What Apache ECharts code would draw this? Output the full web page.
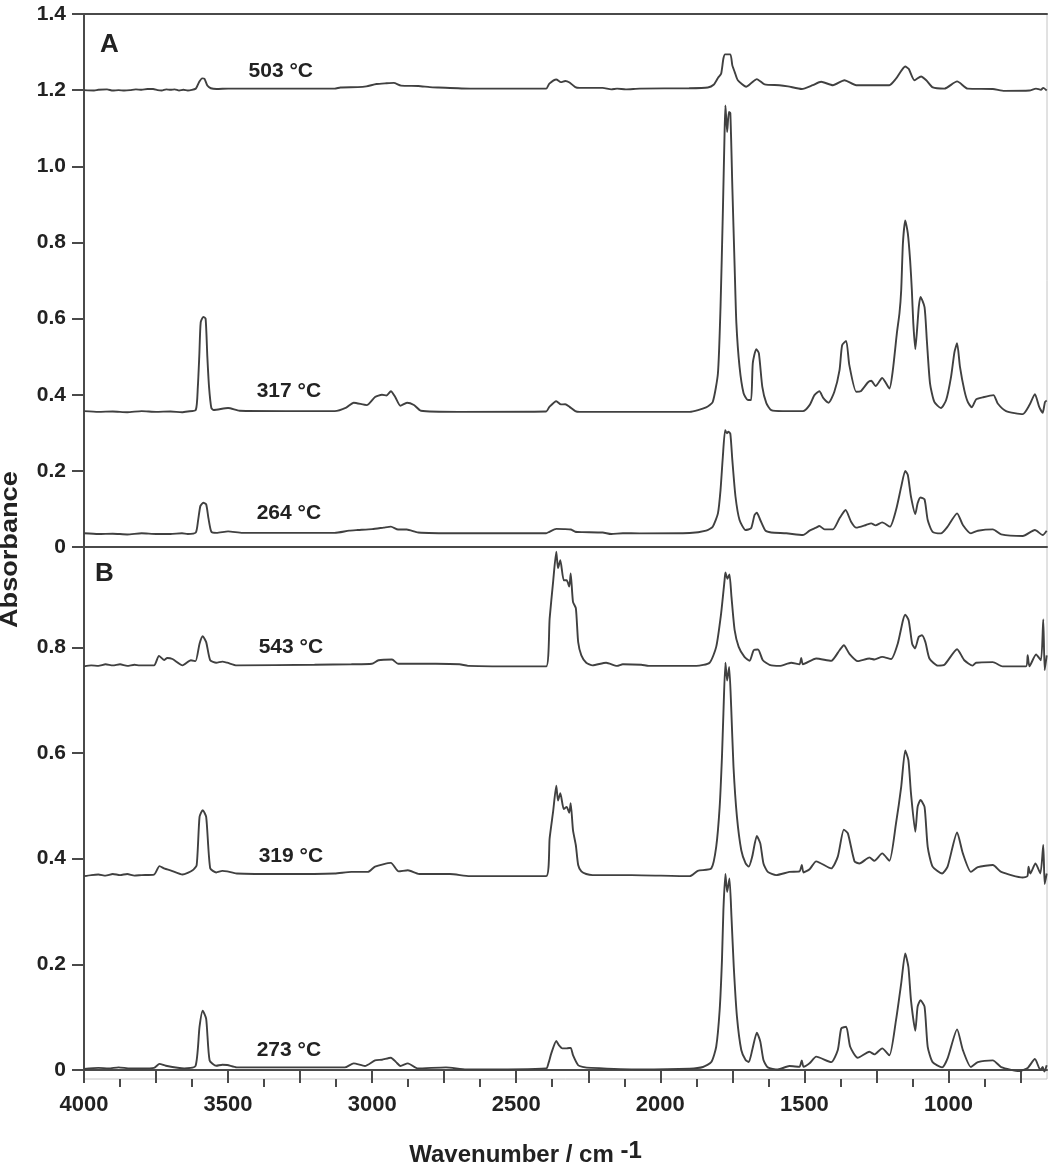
<!DOCTYPE html>
<html>
<head>
<meta charset="utf-8">
<style>html,body{margin:0;padding:0;background:#fff}#c{width:1048px;height:1173px}</style>
<script src="https://cdn.jsdelivr.net/npm/echarts@6/dist/echarts.min.js"></script>
</head>
<body>
<div id="c"></div>
<script>
const s503 = [[4000,1.2],[3965,1.199],[3950,1.201],[3920,1.202],[3900,1.199],[3880,1.2],[3860,1.199],[3840,1.2],[3820,1.202],[3800,1.201],[3780,1.203],[3760,1.203],[3745,1.2],[3730,1.199],[3715,1.202],[3700,1.201],[3685,1.202],[3670,1.199],[3655,1.201],[3640,1.199],[3612,1.204],[3600,1.222],[3590,1.231],[3582,1.23],[3572,1.212],[3560,1.205],[3540,1.203],[3500,1.204],[3300,1.204],[3130,1.204],[3110,1.207],[3050,1.208],[3020,1.21],[2985,1.216],[2950,1.218],[2925,1.219],[2900,1.212],[2840,1.211],[2800,1.208],[2770,1.207],[2660,1.204],[2396,1.204],[2385,1.217],[2361,1.228],[2345,1.221],[2330,1.224],[2315,1.22],[2295,1.208],[2280,1.206],[2200,1.206],[2170,1.202],[2150,1.204],[2120,1.202],[2072,1.204],[1900,1.205],[1835,1.207],[1815,1.214],[1800,1.232],[1789,1.243],[1781,1.283],[1775,1.294],[1757,1.294],[1750,1.265],[1742,1.248],[1731,1.226],[1702,1.209],[1685,1.218],[1665,1.229],[1638,1.215],[1587,1.213],[1557,1.21],[1509,1.203],[1471,1.213],[1442,1.222],[1401,1.213],[1361,1.226],[1320,1.213],[1205,1.213],[1182,1.23],[1150,1.262],[1138,1.256],[1118,1.226],[1095,1.236],[1077,1.226],[1054,1.207],[1014,1.204],[970,1.223],[933,1.204],[846,1.203],[806,1.198],[719,1.199],[696,1.204],[679,1.201],[671,1.206],[659,1.199]];

const s317 = [[4000,.357],[3950,.355],[3900,.356],[3850,.354],[3800,.357],[3750,.355],[3700,.356],[3660,.354],[3640,.356],[3612,.36],[3605,.42],[3600,.5],[3595,.59],[3586,.6045],[3578,.6],[3572,.5],[3566,.42],[3558,.365],[3550,.36],[3500,.365],[3460,.358],[3300,.357],[3130,.357],[3090,.366],[3064,.379],[3019,.3727],[2990,.394],[2966,.4],[2950,.398],[2935,.409],[2920,.394],[2902,.371],[2879,.379],[2855,.373],[2831,.358],[2700,.355],[2396,.356],[2385,.368],[2361,.383],[2345,.3745],[2330,.375],[2315,.368],[2295,.357],[2280,.355],[2072,.355],[1898,.355],[1841,.3667],[1818,.381],[1800,.4565],[1791,.6307],[1783,.8766],[1777,1.086],[1774,1.16],[1768,1.09],[1762,1.1425],[1757,1.14],[1750,.9457],[1742,.7356],[1736,.588],[1725,.473],[1711,.404],[1696,.386],[1685,.386],[1679,.483],[1667,.5197],[1658,.509],[1646,.4208],[1632,.378],[1615,.3596],[1575,.357],[1505,.357],[1482,.3727],[1465,.399],[1448,.409],[1434,.391],[1416,.379],[1396,.4077],[1378,.4646],[1369,.53],[1355,.5415],[1344,.4777],[1320,.4077],[1303,.41],[1280,.432],[1268,.4366],[1253,.4226],[1230,.444],[1205,.4165],[1193,.4646],[1179,.5617],[1170,.614],[1164,.6745],[1158,.798],[1150,.858],[1141,.824],[1133,.753],[1127,.6745],[1122,.588],[1115,.5197],[1109,.5696],[1103,.63],[1097,.657],[1083,.63],[1075,.543],[1064,.43],[1049,.381],[1026,.365],[1008,.386],[991,.447],[979,.5126],[970,.535],[960,.473],[945,.412],[933,.381],[919,.3667],[904,.3877],[881,.393],[844,.399],[829,.377],[800,.357],[742,.349],[719,.3727],[700,.4016],[685,.368],[673,.3525],[665,.381],[659,.385]];

const s264 = [[4000,.036],[3950,.034],[3900,.035],[3850,.033],[3800,.036],[3750,.034],[3700,.034],[3660,.036],[3640,.034],[3612,.038],[3604,.07],[3596,.108],[3586,.1163],[3576,.112],[3568,.075],[3558,.04],[3540,.037],[3500,.041],[3450,.037],[3130,.037],[3080,.043],[3050,.0446],[3000,.047],[2960,.051],[2935,.0534],[2910,.046],[2880,.046],[2840,.038],[2700,.036],[2396,.036],[2385,.04],[2361,.0475],[2335,.047],[2310,.046],[2295,.04],[2270,.039],[2200,.038],[2170,.034],[2130,.036],[2072,.0359],[1898,.0367],[1841,.0428],[1818,.0534],[1800,.0884],[1791,.1496],[1783,.237],[1775,.307],[1769,.2985],[1764,.3028],[1757,.298],[1750,.228],[1739,.132],[1725,.0709],[1704,.0446],[1685,.049],[1673,.084],[1665,.09],[1653,.0709],[1635,.0428],[1615,.038],[1563,.036],[1505,.0315],[1482,.0428],[1459,.0508],[1448,.0551],[1430,.0464],[1401,.0464],[1378,.0753],[1357,.097],[1338,.0665],[1320,.0508],[1286,.0578],[1268,.0621],[1253,.0569],[1230,.0647],[1203,.0534],[1182,.097],[1164,.158],[1150,.2],[1141,.189],[1130,.132],[1115,.0866],[1107,.1147],[1097,.13],[1083,.125],[1072,.0709],[1055,.0398],[1026,.0359],[1003,.0534],[970,.0884],[950,.0578],[922,.0359],[898,.0428],[846,.0464],[817,.0333],[742,.029],[700,.0446],[673,.0315],[659,.0428]];

const s543 = [[4000,.764],[3975,.766],[3950,.765],[3925,.768],[3900,.766],[3875,.768],[3850,.765],[3825,.767],[3807,.766],[3757,.766],[3740,.784],[3722,.776],[3711,.78],[3693,.778],[3658,.766],[3629,.7756],[3613,.774],[3599,.807],[3588,.821],[3576,.81],[3562,.7756],[3541,.771],[3520,.773],[3503,.771],[3470,.766],[3200,.767],[3072,.768],[3001,.769],[2978,.7756],[2931,.777],[2910,.769],[2779,.769],[2697,.768],[2667,.765],[2453,.764],[2396,.764],[2384,.855],[2372,.924],[2361,.981],[2355,.95],[2347,.965],[2335,.927],[2325,.927],[2316,.915],[2311,.94],[2303,.886],[2293,.874],[2285,.81],[2274,.785],[2257,.771],[2235,.766],[2188,.771],[2150,.765],[2130,.768],[2066,.767],[2040,.765],[1875,.765],[1829,.771],[1806,.801],[1789,.864],[1777,.927],[1774,.9416],[1767,.93],[1760,.938],[1753,.8955],[1742,.8325],[1728,.801],[1708,.782],[1690,.7745],[1676,.7946],[1661,.796],[1644,.7756],[1621,.767],[1586,.765],[1546,.771],[1517,.768],[1511,.78],[1505,.768],[1459,.779],[1407,.7745],[1378,.7946],[1363,.804],[1344,.788],[1315,.774],[1274,.779],[1257,.777],[1230,.782],[1199,.778],[1176,.807],[1158,.851],[1150,.862],[1138,.851],[1126,.807],[1116,.798],[1103,.82],[1092,.823],[1080,.81],[1066,.779],[1037,.7655],[1014,.767],[970,.7965],[945,.7756],[916,.7655],[904,.771],[846,.772],[812,.764],[731,.764],[725,.785],[719,.764],[696,.7865],[679,.7756],[671,.853],[666,.757],[659,.785]];

const s319 = [[4000,.367],[3975,.369],[3950,.37],[3925,.368],[3900,.371],[3875,.369],[3850,.371],[3825,.368],[3800,.369],[3757,.37],[3738,.386],[3720,.381],[3700,.378],[3658,.37],[3623,.378],[3609,.388],[3599,.479],[3588,.492],[3576,.479],[3562,.382],[3541,.374],[3520,.377],[3503,.376],[3470,.372],[3300,.371],[3130,.372],[3072,.375],[3015,.375],[2990,.385],[2935,.392],[2908,.376],[2876,.378],[2837,.371],[2730,.371],[2661,.367],[2396,.367],[2384,.439],[2372,.489],[2361,.538],[2355,.51],[2347,.524],[2335,.494],[2325,.498],[2316,.487],[2311,.505],[2303,.454],[2293,.425],[2285,.388],[2274,.376],[2257,.371],[2235,.369],[2100,.369],[1898,.367],[1870,.377],[1823,.3816],[1806,.4225],[1794,.498],[1786,.593],[1781,.675],[1774,.771],[1768,.737],[1761,.763],[1754,.687],[1746,.574],[1734,.479],[1719,.416],[1704,.391],[1693,.385],[1681,.404],[1665,.443],[1653,.429],[1642,.391],[1627,.375],[1598,.369],[1552,.375],[1517,.376],[1509,.388],[1503,.374],[1482,.38],[1459,.395],[1407,.3816],[1384,.404],[1363,.455],[1349,.448],[1326,.395],[1309,.391],[1274,.4025],[1257,.396],[1230,.41],[1205,.396],[1182,.467],[1164,.536],[1150,.605],[1139,.5865],[1130,.5235],[1115,.451],[1107,.498],[1097,.511],[1083,.498],[1072,.4225],[1055,.385],[1022,.372],[1003,.385],[970,.4497],[950,.41],[922,.375],[898,.384],[846,.388],[817,.375],[742,.3645],[726,.367],[722,.385],[716,.372],[698,.391],[681,.372],[671,.426],[666,.352],[659,.372]];

const s273 = [[4000,.002],[3950,.004],[3915,.003],[3880,.005],[3840,.003],[3800,.003],[3757,.004],[3738,.0116],[3716,.008],[3652,.003],[3613,.0076],[3599,.082],[3588,.1122],[3576,.097],[3564,.018],[3541,.008],[3520,.01],[3503,.0095],[3470,.005],[3095,.005],[3064,.0126],[3025,.0076],[2990,.0183],[2966,.0195],[2935,.0233],[2917,.015],[2902,.0076],[2876,.0126],[2843,.003],[2744,.005],[2673,.001],[2396,.003],[2388,.013],[2378,.032],[2361,.055],[2352,.047],[2340,.041],[2325,.041],[2311,.042],[2303,.028],[2285,.009],[2270,.006],[2240,.004],[2072,.001],[1898,.0025],[1852,.0057],[1823,.015],[1806,.044],[1794,.1135],[1786,.208],[1781,.303],[1774,.371],[1768,.337],[1760,.3626],[1753,.29],[1745,.195],[1734,.101],[1719,.038],[1704,.0189],[1693,.0151],[1681,.0378],[1665,.0706],[1653,.054],[1642,.019],[1627,.005],[1592,.001],[1552,.0076],[1517,.006],[1509,.0182],[1503,.006],[1482,.0126],[1459,.0253],[1407,.015],[1384,.0378],[1372,.0788],[1355,.082],[1341,.044],[1315,.0233],[1274,.0346],[1257,.0296],[1230,.041],[1205,.0277],[1182,.0946],[1164,.164],[1150,.2207],[1139,.195],[1130,.132],[1115,.0744],[1107,.12],[1097,.132],[1083,.12],[1072,.044],[1055,.015],[1022,.005],[1003,.022],[970,.077],[950,.0378],[922,.0057],[898,.015],[846,.0183],[817,.0057],[754,-.002],[725,.004],[700,.0208],[681,0],[673,.006],[667,-.003],[659,.009]];

const topSeries = [['503 °C', s503, 3317, 1.2495], ['317 °C', s317, 3289, .4095], ['264 °C', s264, 3289, .089]];
const bottomSeries = [['543 °C', s543, 3282, .8], ['319 °C', s319, 3282, .405], ['273 °C', s273, 3289, .038]];
const topTicks = [0,.2,.4,.6,.8,1,1.2,1.4];
const bottomTicks = [0,.2,.4,.6,.8];
const xMajorTicks = [4000,3750,3500,3250,3000,2750,2500,2250,2000,1750,1500,1250,1000,750];
const xMinorTicks = [3875,3625,3375,3125,2875,2625,2375,2125,1875,1625,1375,1125,875];
const xLabels = [4000,3500,3000,2500,2000,1500,1000];

const FONT = '"Liberation Sans", Arial, sans-serif';
const INK = '#222';
const AXIS = '#4a4a4a';
const xBase = {type:'value', inverse:true, min:658, max:4000, splitLine:{show:false}, axisPointer:{show:false}};
const yBase = {type:'value', splitLine:{show:false}, position:'left',
  axisLine:{show:true, lineStyle:{color:AXIS, width:2}},
  axisTick:{show:true, length:12, inside:false, lineStyle:{color:AXIS, width:2}},
  axisLabel:{fontFamily:FONT, fontWeight:'bold', fontSize:21, color:INK, margin:18,
    formatter:v => v === 0 ? '0' : v.toFixed(1)}};

function mk(item, xi, yi) {
  return {type:'line', xAxisIndex:xi, yAxisIndex:yi, data:item[1], showSymbol:false, smooth:0.2, animation:false,
    lineStyle:{color:'#404040', width:1.9}, silent:true,
    markPoint:{symbol:'circle', symbolSize:0, silent:true, animation:false,
      data:[{coord:[item[2], item[3]],
        label:{show:true, position:'inside', formatter:item[0], fontFamily:FONT, fontWeight:'bold', fontSize:21, color:INK}}]}};
}

const chart = echarts.init(document.getElementById('c'), null, {renderer:'canvas'});
chart.setOption({
  backgroundColor:'#fff',
  animation:false,
  grid:[
    {left:84, right:1, top:14, height:533, show:true, borderColor:'#c4c4c4', borderWidth:1},
    {left:84, right:1, top:547, height:532, show:true, borderColor:'#c4c4c4', borderWidth:1}
  ],
  xAxis:[
    Object.assign({}, xBase, {gridIndex:0, position:'bottom', axisLine:{show:true, lineStyle:{color:AXIS, width:2}}, axisTick:{show:false}, axisLabel:{show:false}}),
    Object.assign({}, xBase, {gridIndex:0, position:'top', axisLine:{show:true, lineStyle:{color:AXIS, width:2}}, axisTick:{show:false}, axisLabel:{show:false}}),
    Object.assign({}, xBase, {gridIndex:1, position:'bottom',
      axisLine:{show:true, lineStyle:{color:AXIS, width:2}},
      axisTick:{show:true, length:13, customValues:xMajorTicks, lineStyle:{color:AXIS, width:2}},
      axisLabel:{show:true, customValues:xLabels, fontFamily:FONT, fontWeight:'bold', fontSize:22, color:INK, margin:15, formatter:v => String(v), hideOverlap:false},
      name:'{a|Wavenumber / cm }{b|-1}', nameLocation:'middle', nameGap:60,
      nameTextStyle:{padding:[0,80,0,0], rich:{
        a:{fontFamily:FONT, fontWeight:'bold', fontSize:24, color:INK},
        b:{fontFamily:FONT, fontWeight:'bold', fontSize:24, color:INK, padding:[0,0,8,0]}}}}),
    Object.assign({}, xBase, {gridIndex:1, position:'bottom',
      axisLine:{show:false},
      axisTick:{show:true, length:8, customValues:xMinorTicks, lineStyle:{color:AXIS, width:2}},
      axisLabel:{show:false}})
  ],
  yAxis:[
    Object.assign({}, yBase, {gridIndex:0, min:0, max:1.4,
      axisTick:Object.assign({}, yBase.axisTick, {customValues:topTicks}),
      axisLabel:Object.assign({}, yBase.axisLabel, {customValues:topTicks})}),
    Object.assign({}, yBase, {gridIndex:1, min:-0.017, max:0.99,
      axisTick:Object.assign({}, yBase.axisTick, {customValues:bottomTicks}),
      axisLabel:Object.assign({}, yBase.axisLabel, {customValues:bottomTicks})})
  ],
  series: topSeries.map(s => mk(s, 0, 0)).concat(bottomSeries.map(s => mk(s, 2, 1))),
  graphic:[
    {type:'text', left:100, top:32, style:{text:'A', font:'bold 26px "Liberation Sans", Arial, sans-serif', fill:INK}},
    {type:'text', left:95, top:561, style:{text:'B', font:'bold 26px "Liberation Sans", Arial, sans-serif', fill:INK}},
    {type:'text', rotation:Math.PI/2, x:-2, y:628, scaleX:1.13, style:{text:'Absorbance', font:'bold 24px "Liberation Sans", Arial, sans-serif', fill:INK}}
  ]
});
</script>
</body>
</html>
